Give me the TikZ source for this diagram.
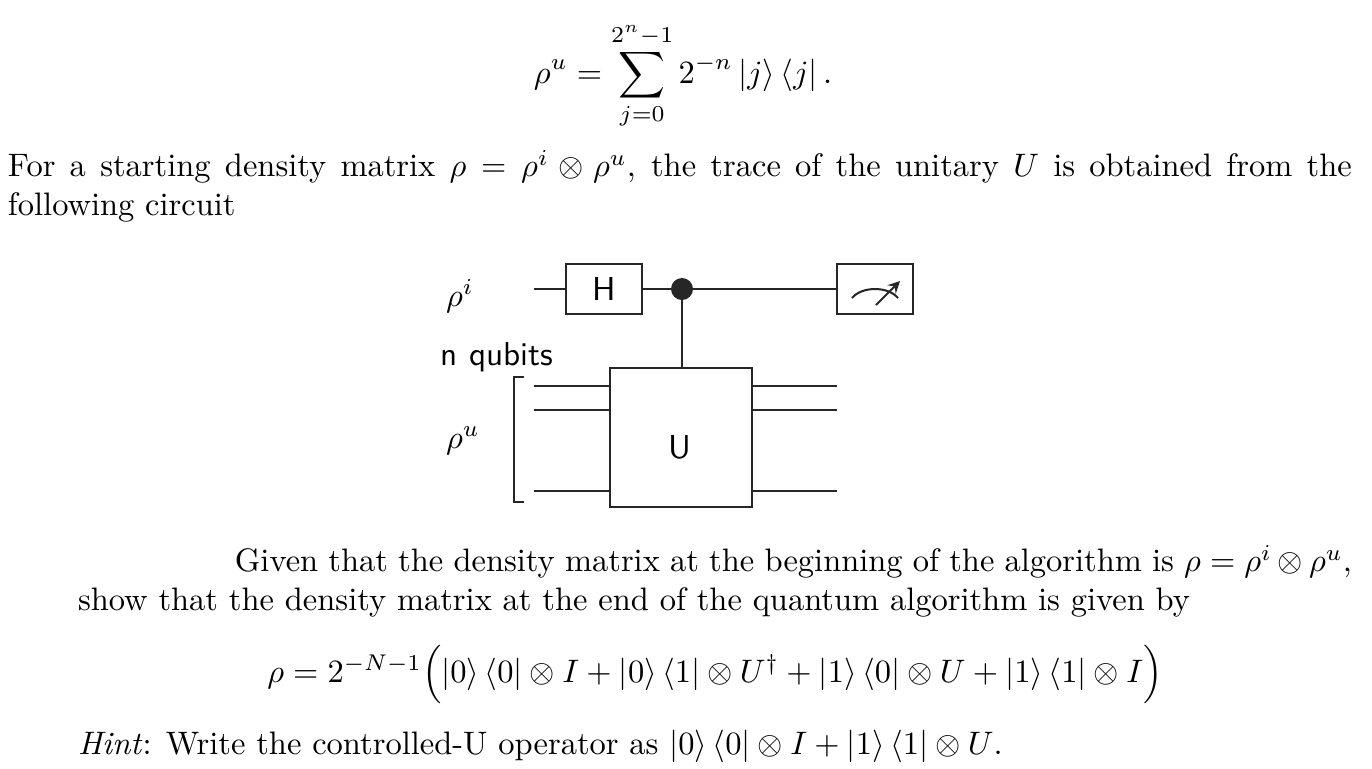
\documentclass[tikz,border=0pt]{standalone}
\usepackage{amsmath,amssymb}
\begin{document}
\begin{tikzpicture}[x=0.3077pt,y=-0.3077pt,
  wire/.style={line width=0.62pt,color=black!85},
  gate/.style={draw=black!85,line width=0.62pt,fill=white},
  txt/.style={inner sep=0pt,outer sep=0pt,font=\fontsize{10}{12}\selectfont},
  sans/.style={inner sep=0pt,font=\fontsize{10.2}{12}\selectfont\sffamily}]
\useasboundingbox (0,0) rectangle (1372,768);
% top equation
\node[txt] (eq1) at (683,76) {$\displaystyle \rho^u=\sum_{j=0}^{2^n-1}2^{-n}\left|j\right\rangle\left\langle j\right|.$};
\node[txt,anchor=north west,text width=413.5pt,align=justify] (p1) at (8,150) {For a starting density matrix $\rho=\rho^i\otimes\rho^u$, the trace of the unitary $U$ is obtained from the following circuit};
% circuit
\coordinate (wi) at (534,289);
\node[gate,minimum width=23.4pt,minimum height=15.4pt] (H) at (604,289) {};
\node[sans] at (H) {H};
\node[gate,minimum width=23.4pt,minimum height=15.4pt] (M) at (875,289) {};
\node[gate,minimum width=43.7pt,minimum height=42.8pt] (U) at (681,437.5) {};
\node[sans] at (680,447) {U};
\fill[black!85] (682,289) circle (11) coordinate (dot);
\draw[wire] (wi) -- (H.west);
\draw[wire] (H.east) -- (M.west);
\draw[wire] (dot) -- (U.north -| dot);
\foreach \y in {386,410,491}{
  \draw[wire] (534,\y) -- (U.west |- 0,\y);
  \draw[wire] (U.east |- 0,\y) -- (837,\y);
}
% meter
\draw[wire] (852,298) .. controls (862,286) and (888,286) .. (898,298);
\draw[wire,->,>=stealth] (876,305) -- (900,281);
\draw[wire] (524,377) -- (514,377) -- (514,502) -- (524,502);
\node[txt] (ri) at (460,296) {$\rho^i$};
\node[txt] (ru) at (463,441) {$\rho^u$};
\node[sans] (nq) at (497,357) {n qubits};
% bottom text
\node[txt,anchor=north west,text width=392pt,align=justify] (p2) at (78,545) {\hspace*{48.3pt}Given that the density matrix at the beginning of the algorithm is $\rho=\rho^i\otimes\rho^u$, show that the density matrix at the end of the quantum algorithm is given by};
\node[txt] (eq2) at (715,674) {$\rho=2^{-N-1}\Bigl(\left|0\right\rangle\left\langle 0\right|\otimes I+\left|0\right\rangle\left\langle 1\right|\otimes U^\dagger+\left|1\right\rangle\left\langle 0\right|\otimes U+\left|1\right\rangle\left\langle 1\right|\otimes I\Bigr)$};
\node[txt,anchor=base west] (hint) at (78,754) {\textit{Hint}: Write the controlled-U operator as $\left|0\right\rangle\left\langle 0\right|\otimes I+\left|1\right\rangle\left\langle 1\right|\otimes U$.};
\end{tikzpicture}
\end{document}
